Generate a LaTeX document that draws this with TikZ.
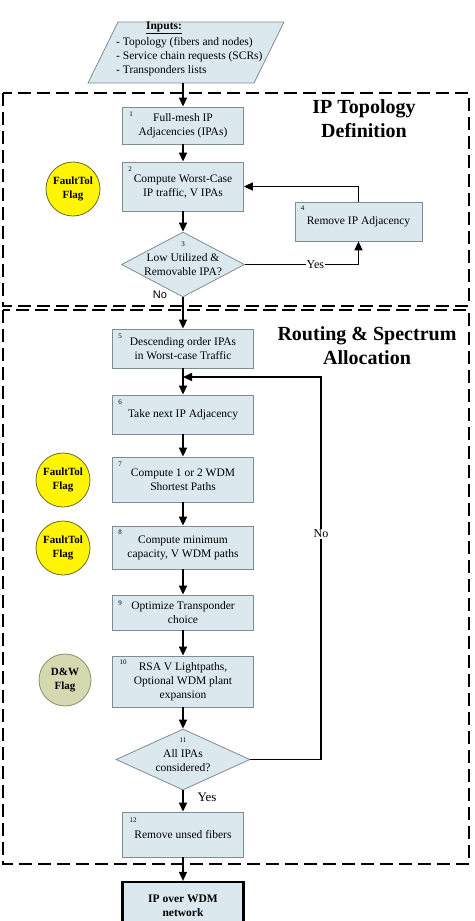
\documentclass[tikz,border=0pt]{standalone}
\usepackage{fontspec}
\setmainfont{Liberation Serif}
\newfontfamily\sansf{Liberation Sans}
\usetikzlibrary{arrows.meta,shapes.geometric,calc}
\definecolor{boxfill}{HTML}{DBE9EF}
\definecolor{boxline}{HTML}{7F8C93}
\definecolor{flagyellow}{HTML}{FFF500}
\definecolor{flagline}{HTML}{6B6B2F}
\definecolor{dwfill}{HTML}{D5D9B0}
\definecolor{dwline}{HTML}{8A8F6A}
\begin{document}
\begin{tikzpicture}[x=1pt,y=-1pt,
  txt/.style={font=\fontsize{11.5}{14}\selectfont, align=center, inner sep=0pt},
  proc/.style={rectangle, draw=boxline, fill=boxfill, line width=0.8pt, align=center,
    font=\fontsize{11.5}{14}\selectfont, inner sep=0pt},
  dec/.style={diamond, draw=boxline, fill=boxfill, line width=0.8pt, inner sep=0pt},
  num/.style={font=\fontsize{7}{8}\selectfont, inner sep=0pt},
  flag/.style={circle, draw=flagline, fill=flagyellow, line width=0.8pt, minimum size=54pt,
    inner sep=0pt, align=center, font=\fontsize{11}{14}\selectfont\bfseries},
  dwflag/.style={circle, draw=dwline, fill=dwfill, line width=0.8pt, minimum size=52pt,
    inner sep=0pt, align=center, font=\fontsize{11}{14}\selectfont\bfseries},
  title/.style={font=\fontsize{20}{24}\selectfont\bfseries, align=center, inner sep=0pt},
  dashbox/.style={draw=black, line width=2pt, dash pattern=on 13pt off 6pt},
  arr/.style={draw=black, line width=1.6pt, -{Triangle[length=9pt,width=8pt]}},
  lbl/.style={font=\fontsize{12}{14}\selectfont, inner sep=1pt, fill=white}
]
\useasboundingbox (0,0) rectangle (474,921);

% dashed regions
\draw[dashbox] (3,93) rectangle (469,306);
\draw[dashbox] (3,310) rectangle (469,864);

% titles
\node[title] (t1) at (364,119) {IP Topology\\Definition};
\node[title] (t2) at (367,346) {Routing \& Spectrum\\Allocation};

% inputs parallelogram
\draw[draw=boxline, fill=boxfill, line width=0.8pt] (118,22) -- (284,22) -- (254,83) -- (88,83) -- cycle;
\coordinate (inpb) at (183,83);
\node[txt, font=\fontsize{11.5}{14}\selectfont\bfseries] (inh) at (164,28) {\underline{Inputs:}};
\node[txt, align=left, anchor=west] (inl) at (116,57) {- Topology (fibers and nodes)\\- Service chain requests (SCRs)\\- Transponders lists};

% IP topology boxes
\node[proc, minimum width=121pt, minimum height=37pt] (b1) at (183,125.5) {Full-mesh IP\\Adjacencies (IPAs)};
\node[proc, minimum width=121pt, minimum height=49pt] (b2) at (183,186.5) {Compute Worst-Case\\IP traffic, V IPAs};
\node[proc, minimum width=127pt, minimum height=39pt] (b4) at (358.5,221.5) {Remove IP Adjacency};
\node[dec, minimum width=123pt, minimum height=65pt] (d3) at (183,264.5) {};
\node[txt] (d3t) at (183,264.5) {Low Utilized \&\\Removable IPA?};

\node[num] (n1) at ($(b1.north west)+(9,8)$) {1};
\node[num] (n2) at ($(b2.north west)+(8,8)$) {2};
\node[num] (n4) at ($(b4.north west)+(8,7)$) {4};
\node[num] (n3) at (183,244) {3};

\node[flag] (f1) at (73,189) {FaultTol\\Flag};

% routing boxes
\node[proc, minimum width=141pt, minimum height=39pt] (b5) at (183,348.5) {Descending order IPAs\\in Worst-case Traffic};
\node[proc, minimum width=141pt, minimum height=39pt] (b6) at (183,414.5) {Take next IP Adjacency};
\node[proc, minimum width=141pt, minimum height=45pt] (b7) at (183,479.5) {Compute 1 or 2 WDM\\Shortest Paths};
\node[proc, minimum width=141pt, minimum height=43pt] (b8) at (183,547.5) {Compute minimum\\capacity, V WDM paths};
\node[proc, minimum width=141pt, minimum height=35pt] (b9) at (183,612.5) {Optimize Transponder\\choice};
\node[proc, minimum width=141pt, minimum height=51pt] (b10) at (183,681.5) {RSA V Lightpaths,\\Optional WDM plant\\expansion};
\node[dec, minimum width=134pt, minimum height=61pt] (d11) at (183,759.5) {};
\node[txt] (d11t) at (183,760.5) {All IPAs\\considered?};
\node[proc, minimum width=121pt, minimum height=45pt] (b12) at (183,834.5) {Remove unsed fibers};
\node[proc, draw=black, line width=2.2pt, minimum width=121pt, minimum height=48pt,
  font=\fontsize{11.5}{14}\selectfont\bfseries] (fin) at (183,906) {IP over WDM\\network};

\node[num] (n5) at ($(b5.north west)+(8,8)$) {5};
\node[num] (n6) at ($(b6.north west)+(8,8)$) {6};
\node[num] (n7) at ($(b7.north west)+(8,8)$) {7};
\node[num] (n8) at ($(b8.north west)+(8,7)$) {8};
\node[num] (n9) at ($(b9.north west)+(8,9)$) {9};
\node[num] (n10) at ($(b10.north west)+(11,7)$) {10};
\node[num] (n11) at (183,740) {11};
\node[num] (n12) at ($(b12.north west)+(11,9)$) {12};

\node[flag] (f2) at (63,480) {FaultTol\\Flag};
\node[flag] (f3) at (63,548) {FaultTol\\Flag};
\node[dwflag] (dw) at (65,680) {D\&W\\Flag};

% connectors
\draw[arr] (inpb) -- (b1.north);
\draw[arr] (b1.south) -- (b2.north);
\draw[arr] (b2.south) -- (d3.north);
\draw[arr] (d3.east) -- node[lbl, pos=0.62] (yes1) {Yes} (b4.south |- d3.east) -- (b4.south);
\draw[arr] (b4.north) -- (b4.north |- b2.east) -- (b2.east);
\draw[arr] (d3.south) -- (b5.north);
\node[font=\sansf\fontsize{11}{13}\selectfont, inner sep=0pt] (no1) at (160,295) {No};

\draw[arr] (b5.south) -- (b6.north);
\draw[arr] (b6.south) -- (b7.north);
\draw[arr] (b7.south) -- (b8.north);
\draw[arr] (b8.south) -- (b9.north);
\draw[arr] (b9.south) -- (b10.north);
\draw[arr] (b10.south) -- (d11.north);
\draw[arr] (d11.south) -- (b12.north);
\node[lbl, fill=none, font=\fontsize{13}{14}\selectfont] (yes2) at (207,797) {Yes};
\draw[arr] (b12.south) -- (fin.north);

\coordinate (lpx) at (321,377);
\draw[arr] (d11.east) -- (d11.east -| lpx) -- node[lbl, pos=0.59] (no2) {No} (lpx) -- (lpx -| b5.south);
\end{tikzpicture}
\end{document}
